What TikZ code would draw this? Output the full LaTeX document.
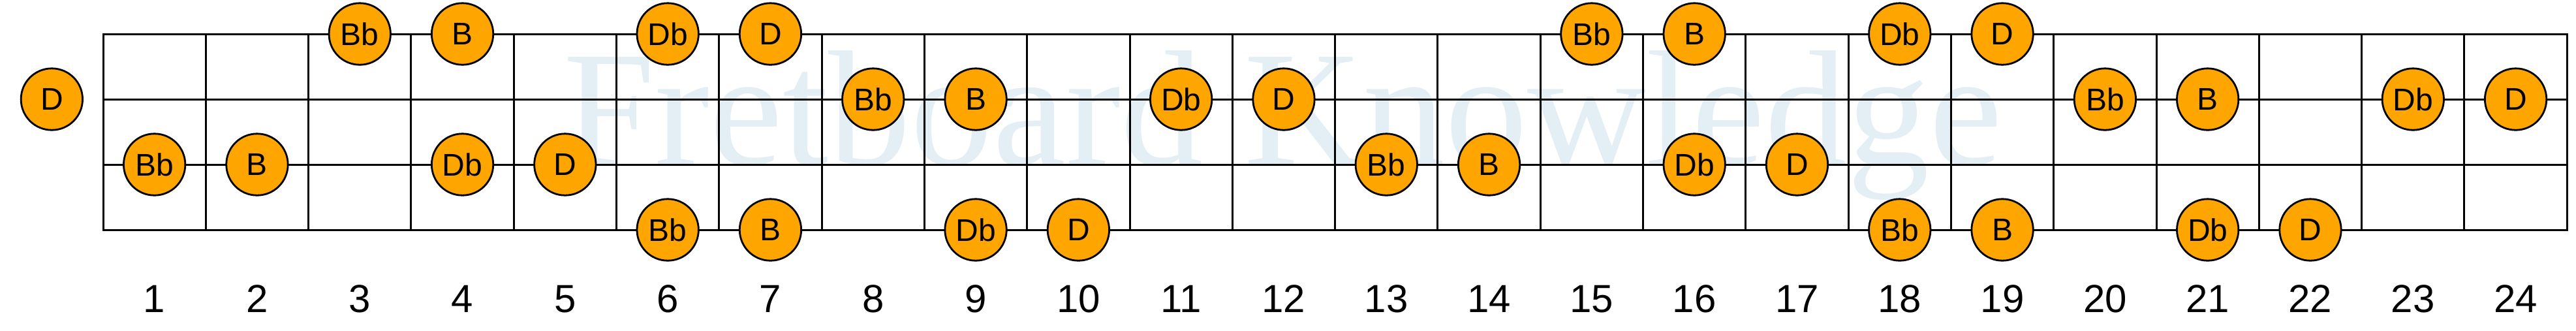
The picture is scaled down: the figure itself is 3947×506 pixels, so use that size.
\documentclass[tikz,border=0pt]{standalone}
\usepackage{fontspec}
\setmainfont{Liberation Sans}
\newfontfamily\wmfont{Liberation Serif}
\definecolor{notefill}{RGB}{255,165,0}
\definecolor{wmblue}{RGB}{228,238,245}

\begin{document}
\begin{tikzpicture}[x=0.25pt,y=-0.25pt,
    note/.style={circle,draw,line width=0.7pt,fill=notefill,minimum size=23.6pt,inner sep=0pt,font=\fontsize{12}{12}\selectfont},
    fretnum/.style={font=\fontsize{15}{15}\selectfont},
    wire/.style={line width=0.75pt}]
  \useasboundingbox (0,0) rectangle (3947,506);
  % watermark
  \node[wmblue,anchor=base,inner sep=0pt,font=\wmfont\fontsize{63}{63}\selectfont] (wm) at (1966,252) {Fretboard Knowledge};
  % strings and frets
  \draw[wire] (158,52) rectangle (3933,352);
  \foreach \s in {1,2}
    \draw[wire] (158,52+\s*100) -- (3933,52+\s*100);
  \foreach \i in {1,...,23}
    \draw[wire] (158+\i*157.3,52) -- (158+\i*157.3,352);
  % notes: string/fret/name
  \foreach \s/\f/\n in {0/3/Bb,0/4/B,0/6/Db,0/7/D,0/15/Bb,0/16/B,0/18/Db,0/19/D,
      1/0/D,1/8/Bb,1/9/B,1/11/Db,1/12/D,1/20/Bb,1/21/B,1/23/Db,1/24/D,
      2/1/Bb,2/2/B,2/4/Db,2/5/D,2/13/Bb,2/14/B,2/16/Db,2/17/D,
      3/6/Bb,3/7/B,3/9/Db,3/10/D,3/18/Bb,3/19/B,3/21/Db,3/22/D}
    \node[note] (n\s-\f) at (158+\f*157.3-78.65,52+\s*100) {\n};
  % fret numbers
  \foreach \f in {1,...,24}
    \node[fretnum] (f\f) at (158+\f*157.3-78.65,458) {\f};
\end{tikzpicture}
\end{document}
